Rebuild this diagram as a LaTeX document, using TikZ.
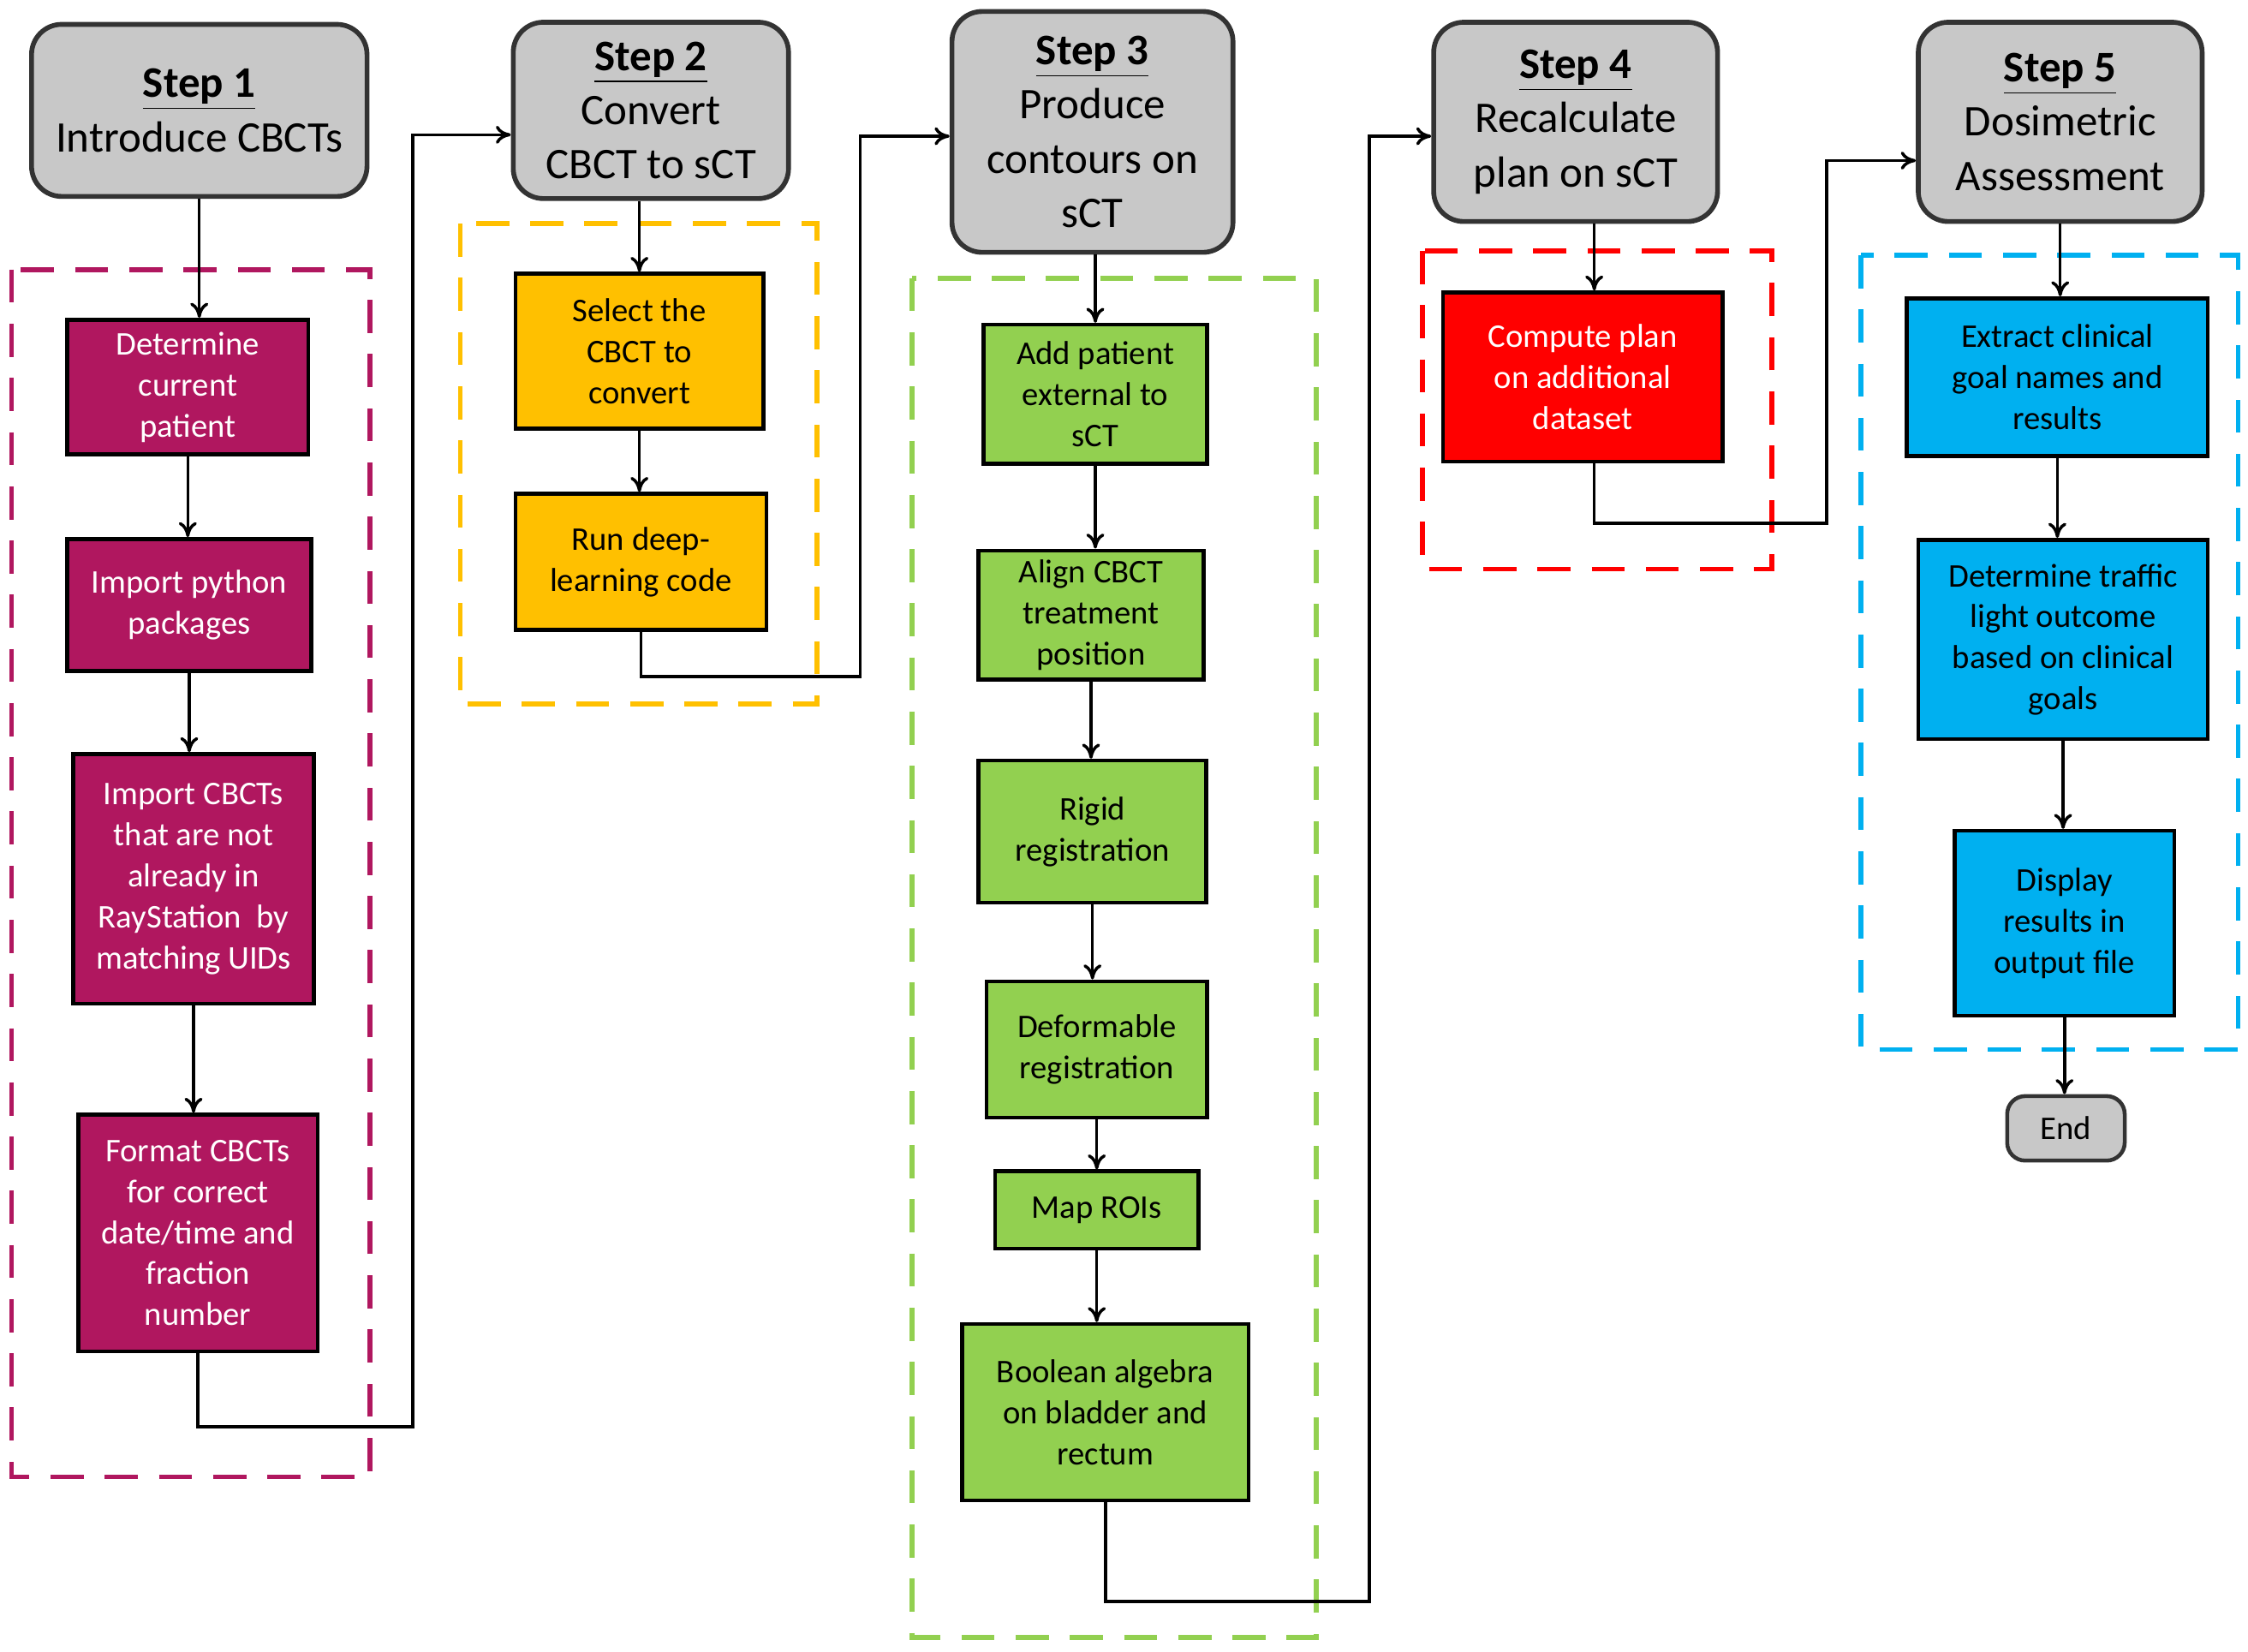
\documentclass[tikz,border=0pt]{standalone}
\usepackage{fontspec}
\setmainfont{Carlito}
\usetikzlibrary{positioning, arrows.meta}
\definecolor{StepGray}{HTML}{C8C8C8}
\definecolor{StepMagenta}{HTML}{B0175F}
\definecolor{StepYellow}{HTML}{FFC000}
\definecolor{StepGreen}{HTML}{92D050}
\definecolor{StepRed}{HTML}{FF0000}
\definecolor{StepBlue}{HTML}{00B0F0}
\newcommand{\pxu}[1]{#1*0.01674cm}

\begin{document}
\begin{tikzpicture}[x=0.01674cm, y=-0.01674cm,
        stepbox/.style={draw=black!80, line width=1.6pt, fill=StepGray, rounded corners=10pt, align=center, inner sep=2pt, font=\fontsize{14.5}{18}\selectfont},
        box/.style={draw=black, line width=1.3pt, align=center, inner sep=2pt, font=\fontsize{11}{13.6}\selectfont},
        group/.style={draw, line width=1.6pt, dash pattern=on 11pt off 7pt},
        arrow/.style={-{To[length=5pt,width=6pt]}, line width=1pt}
    ]
    \useasboundingbox (0,0) rectangle (1568,1152);

    % Steps
    \node[stepbox, minimum width={\pxu{234}}, minimum height={\pxu{120}}] (step1) at (139,77) {\underline{\textbf{Step 1}}\\Introduce CBCTs};
    \node[stepbox, minimum width={\pxu{192}}, minimum height={\pxu{123}}] (step2) at (454,77) {\underline{\textbf{Step 2}}\\Convert\\CBCT to sCT};
    \node[stepbox, minimum width={\pxu{196}}, minimum height={\pxu{168}}] (step3) at (762,92) {\underline{\textbf{Step 3}}\\Produce\\contours on\\sCT};
    \node[stepbox, minimum width={\pxu{198}}, minimum height={\pxu{139}}] (step4) at (1099,85) {\underline{\textbf{Step 4}}\\Recalculate\\plan on sCT};
    \node[stepbox, minimum width={\pxu{198}}, minimum height={\pxu{139}}] (step5) at (1437,85) {\underline{\textbf{Step 5}}\\Dosimetric\\Assessment};
    \node[stepbox, rounded corners=6pt, line width=1.3pt, font=\fontsize{11}{13.6}\selectfont, minimum width={\pxu{82}}, minimum height={\pxu{45}}] (end) at (1441,787) {End};

    % Dashed groups
    \draw[group, StepMagenta] (8,188) rectangle (258,1030);
    \draw[group, StepYellow] (321,156) rectangle (570,491);
    \draw[group, StepGreen] (636,194) rectangle (918,1142);
    \draw[group, StepRed] (992,175) rectangle (1236,397);
    \draw[group, StepBlue] (1298,178) rectangle (1561,732);

    % Step 1 boxes
    \node[box, fill=StepMagenta, text=white, minimum width={\pxu{168}}, minimum height={\pxu{94}}] (current) at (131,270) {Determine\\current\\patient};
    \node[box, fill=StepMagenta, text=white, minimum width={\pxu{170}}, minimum height={\pxu{92}}] (packages) at (132,422) {Import python\\packages};
    \node[box, fill=StepMagenta, text=white, minimum width={\pxu{168}}, minimum height={\pxu{174}}] (import) at (135,613) {Import CBCTs\\that are not\\already in\\RayStation~ by\\matching UIDs};
    \node[box, fill=StepMagenta, text=white, minimum width={\pxu{167}}, minimum height={\pxu{165}}] (format) at (138,860) {Format CBCTs\\for correct\\date/time and\\fraction\\number};

    % Step 2 boxes
    \node[box, fill=StepYellow, minimum width={\pxu{173}}, minimum height={\pxu{108}}] (select) at (446,245) {Select the\\CBCT to\\convert};
    \node[box, fill=StepYellow, minimum width={\pxu{175}}, minimum height={\pxu{95}}] (deep) at (447,392) {Run deep-\\learning code};

    % Step 3 boxes
    \node[box, fill=StepGreen, minimum width={\pxu{156}}, minimum height={\pxu{97}}] (external) at (764,275) {Add patient\\external to\\sCT};
    \node[box, fill=StepGreen, minimum width={\pxu{157}}, minimum height={\pxu{90}}] (align) at (761,429) {Align CBCT\\treatment\\position};
    \node[box, fill=StepGreen, minimum width={\pxu{159}}, minimum height={\pxu{99}}] (rigid) at (762,580) {Rigid\\registration};
    \node[box, fill=StepGreen, minimum width={\pxu{154}}, minimum height={\pxu{95}}] (deform) at (765,732) {Deformable\\registration};
    \node[box, fill=StepGreen, minimum width={\pxu{142}}, minimum height={\pxu{54}}] (rois) at (765,844) {Map ROIs};
    \node[box, fill=StepGreen, minimum width={\pxu{200}}, minimum height={\pxu{123}}] (boolean) at (771,985) {Boolean algebra\\on bladder and\\rectum};

    % Step 4 box
    \node[box, fill=StepRed, text=white, minimum width={\pxu{195}}, minimum height={\pxu{118}}] (compute) at (1104,263) {Compute plan\\on additional\\dataset};

    % Step 5 boxes
    \node[box, fill=StepBlue, minimum width={\pxu{210}}, minimum height={\pxu{110}}] (extract) at (1435,263) {Extract clinical\\goal names and\\results};
    \node[box, fill=StepBlue, minimum width={\pxu{202}}, minimum height={\pxu{139}}] (traffic) at (1439,446) {Determine traffic\\light outcome\\based on clinical\\goals};
    \node[box, fill=StepBlue, minimum width={\pxu{153}}, minimum height={\pxu{129}}] (display) at (1440,644) {Display\\results in\\output file};

    % Turning points
    \coordinate (c1a) at (288,995);
    \coordinate (c1b) at (288,94);
    \coordinate (c2a) at (600,472);
    \coordinate (c2b) at (600,95);
    \coordinate (c3a) at (955,1117);
    \coordinate (c3b) at (955,95);
    \coordinate (c4a) at (1274,365);
    \coordinate (c4b) at (1274,112);

    % Arrows inside steps
    \draw[arrow] (step1.south) -- (step1.south |- current.north);
    \draw[arrow] (current.south) -- (current.south |- packages.north);
    \draw[arrow] (packages.south) -- (packages.south |- import.north);
    \draw[arrow] (import.south) -- (import.south |- format.north);
    \draw[arrow] (select.north |- step2.south) -- (select.north);
    \draw[arrow] (select.south) -- (select.south |- deep.north);
    \draw[arrow] (external.north |- step3.south) -- (external.north);
    \draw[arrow] (external.south) -- (external.south |- align.north);
    \draw[arrow] (align.south) -- (align.south |- rigid.north);
    \draw[arrow] (rigid.south) -- (rigid.south |- deform.north);
    \draw[arrow] (deform.south) -- (deform.south |- rois.north);
    \draw[arrow] (rois.south) -- (rois.south |- boolean.north);
    \draw[arrow] ([xshift={\pxu{13}}]step4.south) -- ([xshift={\pxu{13}}]step4.south |- compute.north);
    \draw[arrow] (step5.south) -- (step5.south |- extract.north);
    \draw[arrow] (extract.south) -- (extract.south |- traffic.north);
    \draw[arrow] (traffic.south) -- (traffic.south |- display.north);
    \draw[arrow] (display.south) -- (display.south |- end.north);

    % Arrows between steps
    \draw[arrow] (format.south) |- (c1a) -- (c1b) -- (c1b -| step2.west);
    \draw[arrow] (deep.south) |- (c2a) -- (c2b) -- (c2b -| step3.west);
    \draw[arrow] (boolean.south) |- (c3a) -- (c3b) -- (c3b -| step4.west);
    \draw[arrow] ([xshift={\pxu{8}}]compute.south) |- (c4a) -- (c4b) -- (c4b -| step5.west);
\end{tikzpicture}
\end{document}
